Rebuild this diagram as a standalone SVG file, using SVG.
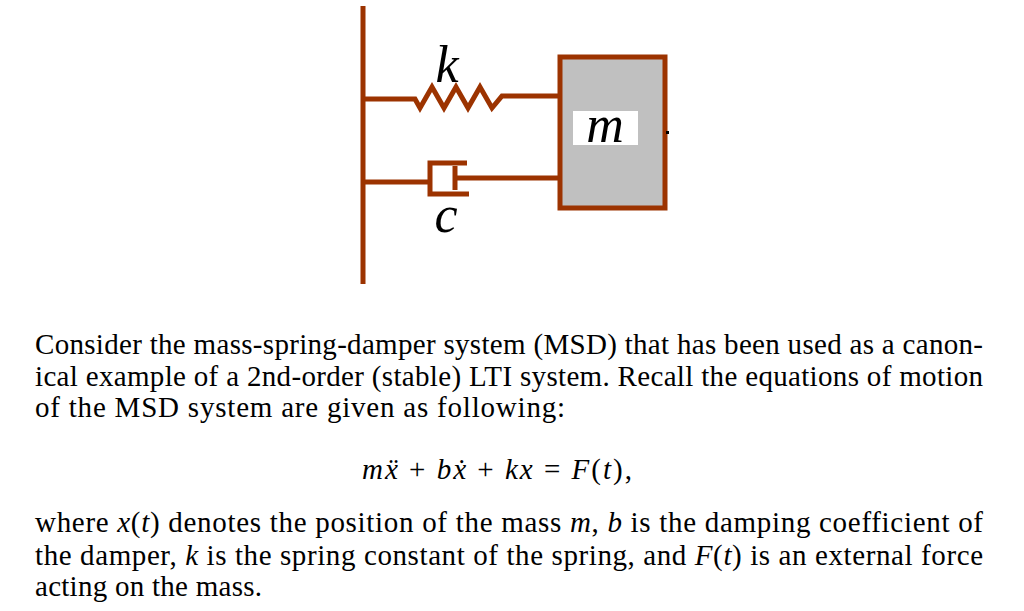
<svg xmlns="http://www.w3.org/2000/svg" width="1024" height="611" viewBox="0 0 1024 611">
<style>
.s{stroke:#9c3300;stroke-width:5;fill:none}
.t{font-family:"Liberation Serif",serif;font-size:29px;fill:#000}
.i{font-style:italic}
.big{font-family:"Liberation Serif",serif;font-style:italic;font-size:52px;fill:#000}
</style>
<rect width="1024" height="611" fill="#fff"/>
<g id="wall"><line class="s" x1="363" y1="6" x2="363" y2="284"/></g>
<g id="connectors">
<polyline class="s" points="363,99 415,99 420,108 432,87 444,108 456,87 468,108 480,87 492,108 502,96 508,96 558,96"/>
<polyline class="s" points="363,182 430,182"/>
<polyline class="s" points="467,163 430,163 430,194 469,194"/>
<line class="s" x1="455" y1="166" x2="455" y2="190"/>
<line class="s" x1="455" y1="178" x2="558" y2="178"/>
</g>
<g id="mass">
<rect x="560" y="57" width="105" height="151" fill="#c0c0c0" stroke="#9c3300" stroke-width="5"/>
<rect x="573" y="111" width="65" height="34" fill="#fff"/>
<text x="605" y="142" text-anchor="middle" class="big">m</text>
<rect x="666" y="131" width="3" height="3" fill="#000"/>
</g>
<g id="labels">
<text x="447" y="82" text-anchor="middle" class="big">k</text>
<text x="446" y="232" text-anchor="middle" class="big">c</text>
</g>
<g id="text">
<text class="t" x="35" y="354" textLength="948" lengthAdjust="spacing">Consider the mass-spring-damper system (MSD) that has been used as a canon-</text>
<text class="t" x="35" y="386" textLength="948" lengthAdjust="spacing">ical example of a 2nd-order (stable) LTI system. Recall the equations of motion</text>
<text class="t" x="35" y="417" textLength="530" lengthAdjust="spacing">of the MSD system are given as following:</text>
<text class="t" x="497" y="479" text-anchor="middle" textLength="270" lengthAdjust="spacing"><tspan class="i">m</tspan><tspan class="i">ẍ</tspan> + <tspan class="i">bẋ</tspan> + <tspan class="i">kx</tspan> = <tspan class="i">F</tspan>(<tspan class="i">t</tspan>),</text>
<text class="t" x="35" y="532" textLength="948" lengthAdjust="spacing">where <tspan class="i">x</tspan>(<tspan class="i">t</tspan>) denotes the position of the mass <tspan class="i">m</tspan>, <tspan class="i">b</tspan> is the damping coefficient of</text>
<text class="t" x="35" y="565" textLength="948" lengthAdjust="spacing">the damper, <tspan class="i">k</tspan> is the spring constant of the spring, and <tspan class="i">F</tspan>(<tspan class="i">t</tspan>) is an external force</text>
<text class="t" x="35" y="596" textLength="227" lengthAdjust="spacing">acting on the mass.</text>
</g>
</svg>
